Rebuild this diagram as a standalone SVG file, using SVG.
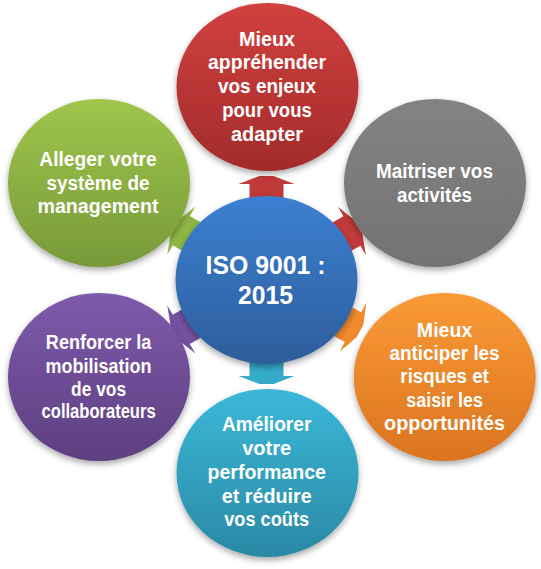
<svg xmlns="http://www.w3.org/2000/svg" width="541" height="569" viewBox="0 0 541 569">
<style>
.t{font-family:"Liberation Sans",Arial,sans-serif;font-weight:bold;font-size:19.5px;fill:#ffffff;text-anchor:middle}
.c{font-size:26px}
.n{filter:url(#sh)}
</style>
<defs>
<filter id="sh" x="-20%" y="-20%" width="140%" height="150%">
<feDropShadow dx="0" dy="3" stdDeviation="3" flood-color="#000" flood-opacity="0.35"/>
</filter>
<linearGradient id="gRed" x1="0" y1="0" x2="0" y2="1"><stop offset="0" stop-color="#d2403f"/><stop offset="1" stop-color="#a22b2b"/></linearGradient>
<linearGradient id="gGray" x1="0" y1="0" x2="0" y2="1"><stop offset="0" stop-color="#838383"/><stop offset="1" stop-color="#737373"/></linearGradient>
<linearGradient id="gGreen" x1="0" y1="0" x2="0" y2="1"><stop offset="0" stop-color="#9fc64b"/><stop offset="1" stop-color="#77993a"/></linearGradient>
<linearGradient id="gOrange" x1="0" y1="0" x2="0" y2="1"><stop offset="0" stop-color="#fa9a36"/><stop offset="1" stop-color="#da7420"/></linearGradient>
<linearGradient id="gCyan" x1="0" y1="0" x2="0" y2="1"><stop offset="0" stop-color="#3bb8d9"/><stop offset="1" stop-color="#2a89a4"/></linearGradient>
<linearGradient id="gPurple" x1="0" y1="0" x2="0" y2="1"><stop offset="0" stop-color="#7e5bab"/><stop offset="1" stop-color="#5d3f80"/></linearGradient>
<linearGradient id="gBlue" x1="0" y1="0" x2="0" y2="1"><stop offset="0" stop-color="#3c80d2"/><stop offset="1" stop-color="#2d5d9b"/></linearGradient>
<path id="arr" d="M -8,-17 L 12,-17 L 12,-28 L 20,-7 L 20,7 L 12,28 L 12,17 L -8,17 Z"/>
</defs>
<rect width="541" height="569" fill="#ffffff"/>
<g id="connectors">
<use href="#arr" fill="#c13a3a" transform="translate(266.5,280) rotate(-90) translate(84,0)"/>
<use href="#arr" fill="#c13a3a" transform="translate(266.5,280) rotate(-29.9) translate(86.5,0)"/>
<use href="#arr" fill="#f08a2c" transform="translate(266.5,280) rotate(28.6) translate(86.5,0)"/>
<use href="#arr" fill="#35aacb" transform="translate(266.5,280) rotate(90) translate(84,0)"/>
<use href="#arr" fill="#7552a0" transform="translate(266.5,280) rotate(149.9) translate(86.5,0)"/>
<use href="#arr" fill="#8fb544" transform="translate(266.5,280) rotate(-149.9) translate(86.5,0)"/>
</g>
<g id="node-top">
<ellipse class="n" cx="267.5" cy="87" rx="91" ry="84" fill="url(#gRed)"/>
<text class="t" x="267" y="45.5" textLength="56" lengthAdjust="spacingAndGlyphs">Mieux</text>
<text class="t" x="267" y="69.3" textLength="118" lengthAdjust="spacingAndGlyphs">appréhender</text>
<text class="t" x="267" y="93" textLength="98" lengthAdjust="spacingAndGlyphs">vos enjeux</text>
<text class="t" x="267" y="116.8" textLength="89.5" lengthAdjust="spacingAndGlyphs">pour vous</text>
<text class="t" x="267" y="140.5" textLength="72" lengthAdjust="spacingAndGlyphs">adapter</text>
</g>
<g id="node-upper-right">
<ellipse class="n" cx="435" cy="183" rx="91" ry="84" fill="url(#gGray)"/>
<text class="t" x="434.5" y="178" textLength="117" lengthAdjust="spacingAndGlyphs">Maitriser vos</text>
<text class="t" x="434.5" y="201.5" textLength="75" lengthAdjust="spacingAndGlyphs">activités</text>
</g>
<g id="node-lower-right">
<ellipse class="n" cx="444.7" cy="377" rx="91" ry="84" fill="url(#gOrange)"/>
<text class="t" x="444.6" y="336.5" textLength="55.5" lengthAdjust="spacingAndGlyphs">Mieux</text>
<text class="t" x="444.6" y="359.8" textLength="110" lengthAdjust="spacingAndGlyphs">anticiper les</text>
<text class="t" x="444.6" y="383" textLength="88.5" lengthAdjust="spacingAndGlyphs">risques et</text>
<text class="t" x="444.6" y="406.5" textLength="76.5" lengthAdjust="spacingAndGlyphs">saisir les</text>
<text class="t" x="444.6" y="430" textLength="121" lengthAdjust="spacingAndGlyphs">opportunités</text>
</g>
<g id="node-bottom">
<ellipse class="n" cx="267.5" cy="473" rx="91" ry="84" fill="url(#gCyan)"/>
<text class="t" x="266.7" y="431" textLength="89.5" lengthAdjust="spacingAndGlyphs">Améliorer</text>
<text class="t" x="266.7" y="455" textLength="49" lengthAdjust="spacingAndGlyphs">votre</text>
<text class="t" x="266.7" y="479" textLength="118.5" lengthAdjust="spacingAndGlyphs">performance</text>
<text class="t" x="266.7" y="502.5" textLength="90" lengthAdjust="spacingAndGlyphs">et réduire</text>
<text class="t" x="266.7" y="526" textLength="85" lengthAdjust="spacingAndGlyphs">vos coûts</text>
</g>
<g id="node-lower-left">
<ellipse class="n" cx="99" cy="377" rx="91" ry="84" fill="url(#gPurple)"/>
<text class="t" x="98.6" y="349" textLength="105.5" lengthAdjust="spacingAndGlyphs">Renforcer la</text>
<text class="t" x="98.6" y="372.5" textLength="106" lengthAdjust="spacingAndGlyphs">mobilisation</text>
<text class="t" x="98.6" y="395.5" textLength="55" lengthAdjust="spacingAndGlyphs">de vos</text>
<text class="t" x="98.6" y="418" textLength="114" lengthAdjust="spacingAndGlyphs">collaborateurs</text>
</g>
<g id="node-upper-left">
<ellipse class="n" cx="99" cy="183" rx="91" ry="84" fill="url(#gGreen)"/>
<text class="t" x="98" y="166" textLength="117.5" lengthAdjust="spacingAndGlyphs">Alleger votre</text>
<text class="t" x="98" y="189.5" textLength="103" lengthAdjust="spacingAndGlyphs">système de</text>
<text class="t" x="98" y="213" textLength="121" lengthAdjust="spacingAndGlyphs">management</text>
</g>
<g id="node-center">
<ellipse class="n" cx="266.5" cy="280" rx="91" ry="84" fill="url(#gBlue)"/>
<text class="t c" x="265.5" y="273.5" textLength="120" lengthAdjust="spacingAndGlyphs">ISO 9001 :</text>
<text class="t c" x="265.5" y="303.5" textLength="55" lengthAdjust="spacingAndGlyphs">2015</text>
</g>
</svg>
